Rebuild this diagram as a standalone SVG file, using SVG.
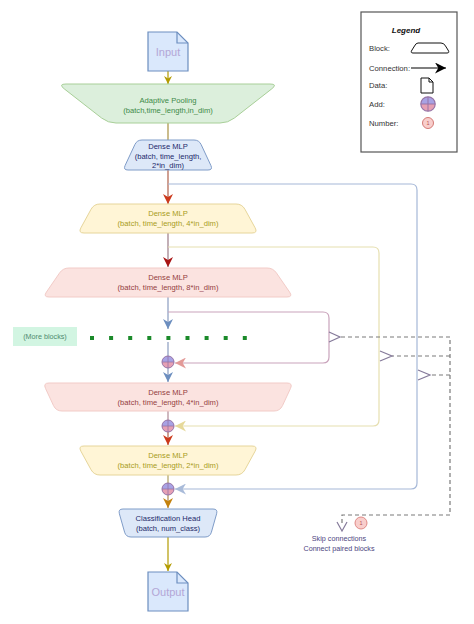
<svg xmlns="http://www.w3.org/2000/svg" xmlns:xlink="http://www.w3.org/1999/xlink" width="474" height="624" viewBox="0 0 474 624">
<style>
  text { font-family: "Liberation Sans", Arial, sans-serif; text-anchor: middle; dominant-baseline: central; }
  .blk { font-size: 7.6px; }
  .lg { font-size: 7.7px; fill: #333; text-anchor: start; }
  .doc { fill: #dae8fc; stroke: #6c8ebf; stroke-width: 1.2; }
  .doctx { font-size: 11px; fill: #b3a6d6; }
  .conn { fill: none; stroke-width: 1.2; }
  .dash { fill: none; stroke: #7a7a7a; stroke-width: 1.2; stroke-dasharray: 4 3; }
  .chev { fill: none; stroke: #857a9a; stroke-width: 1.2; }
</style>
<defs>
  <marker id="aOlive" viewBox="0 0 10 10" refX="10" refY="5" markerWidth="8" markerHeight="8" markerUnits="userSpaceOnUse" orient="auto"><path d="M0,0 L10,5 L0,10 L3,5 z" fill="#b39b00"/></marker>
  <marker id="aRed" viewBox="0 0 10 10" refX="10" refY="5" markerWidth="10" markerHeight="10" markerUnits="userSpaceOnUse" orient="auto"><path d="M0,0 L10,5 L0,10 L3,5 z" fill="#cc3a1c"/></marker>
  <marker id="aDRed" viewBox="0 0 10 10" refX="10" refY="5" markerWidth="10" markerHeight="10" markerUnits="userSpaceOnUse" orient="auto"><path d="M0,0 L10,5 L0,10 L3,5 z" fill="#a81414"/></marker>
  <marker id="aBlue" viewBox="0 0 10 10" refX="10" refY="5" markerWidth="10" markerHeight="10" markerUnits="userSpaceOnUse" orient="auto"><path d="M0,0 L10,5 L0,10 L3,5 z" fill="#6c8ebf"/></marker>
  <marker id="aAmber" viewBox="0 0 10 10" refX="10" refY="5" markerWidth="10" markerHeight="10" markerUnits="userSpaceOnUse" orient="auto"><path d="M0,0 L10,5 L0,10 L3,5 z" fill="#c4820f"/></marker>
  <marker id="aPink" viewBox="0 0 10 10" refX="10" refY="5" markerWidth="11" markerHeight="11" markerUnits="userSpaceOnUse" orient="auto"><path d="M0,0 L10,5 L0,10 L3,5 z" fill="#e39a98"/></marker>
  <marker id="aYel" viewBox="0 0 10 10" refX="10" refY="5" markerWidth="11" markerHeight="11" markerUnits="userSpaceOnUse" orient="auto"><path d="M0,0 L10,5 L0,10 L3,5 z" fill="#e6d99a"/></marker>
  <marker id="aLBlue" viewBox="0 0 10 10" refX="10" refY="5" markerWidth="11" markerHeight="11" markerUnits="userSpaceOnUse" orient="auto"><path d="M0,0 L10,5 L0,10 L3,5 z" fill="#a9bbd9"/></marker>
  <marker id="aBlack" viewBox="0 0 10 10" refX="10" refY="5" markerWidth="11" markerHeight="11" markerUnits="userSpaceOnUse" orient="auto"><path d="M0,0 L10,5 L0,10 L3,5 z" fill="#000"/></marker>
  <g id="addSym">
    <path d="M-6,0 A6,6 0 0 1 6,0 Z" fill="#a8a2e4"/>
    <path d="M-6,0 A6,6 0 0 0 6,0 Z" fill="#e6a0b4"/>
    <circle r="6" fill="none" stroke="#9673a6" stroke-width="1"/>
    <path d="M-6,0 H6 M0,-6 V6" stroke="#9673a6" stroke-width="0.8"/>
  </g>
</defs>
<rect width="474" height="624" fill="#fff"/>

<g id="connectors">
  <path class="conn" d="M168,71 V84" stroke="#b39b00" marker-end="url(#aOlive)"/>
  <path class="conn" d="M168,123 V140" stroke="#a89040"/>
  <path class="conn" d="M168,170 V204" stroke="#b0604a" marker-end="url(#aRed)"/>
  <path class="conn" d="M168,184 H411 Q417,184 417,190 V483 Q417,489 411,489 H175" stroke="#a6b8d8" marker-end="url(#aLBlue)"/>
  <path class="conn" d="M168,233 V267" stroke="#9b7b86" marker-end="url(#aDRed)"/>
  <path class="conn" d="M168,247 H373 Q379,247 379,253 V420 Q379,426 373,426 H175" stroke="#e6dfb0" marker-end="url(#aYel)"/>
  <path class="conn" d="M168,297 V329" stroke="#8a9cc0" marker-end="url(#aBlue)"/>
  <path class="conn" d="M168,312 H323 Q329,312 329,318 V357 Q329,363 323,363 H175" stroke="#c9a3bb" marker-end="url(#aPink)"/>
  <path class="conn" d="M168,342 V356" stroke="#8a9cc0"/>
  <path class="conn" d="M168,368 V382" stroke="#8a9cc0" marker-end="url(#aBlue)"/>
  <path class="conn" d="M168,411 V420" stroke="#b08a96"/>
  <path class="conn" d="M168,432 V445" stroke="#b0604a" marker-end="url(#aRed)"/>
  <path class="conn" d="M168,475 V483" stroke="#b0a060"/>
  <path class="conn" d="M168,495 V508" stroke="#b08a50" marker-end="url(#aAmber)"/>
  <path class="conn" d="M168,537 V571" stroke="#b39b00" marker-end="url(#aOlive)"/>
  <path d="M90,338 H250" fill="none" stroke="#1b8a2a" stroke-width="4" stroke-dasharray="4 15.1"/>
  <path class="dash" d="M342,523 V515 H450 V337 H340"/>
  <path class="dash" d="M450,356 H392"/>
  <path class="dash" d="M450,375 H430"/>
  <path class="chev" d="M329,332 L340,337 L329,342"/>
  <path class="chev" d="M380,351 L392,356 L380,361"/>
  <path class="chev" d="M418,370 L430,375 L418,380"/>
  <path class="chev" d="M337,522 L342,531 L347,522"/>
</g>

<g id="input">
  <path class="doc" d="M148,32 H177 L188,43 V71 H148 Z"/>
  <path d="M177,32 V43 H188" fill="none" stroke="#6c8ebf" stroke-width="1.2"/>
  <text class="doctx" x="168" y="52">Input</text>
</g>

<g id="adaptive-pooling">
  <path d="M66,84 H270 Q278,84 271.7,88.9 L234.3,118.1 Q228,123 220,123 H116 Q108,123 101.7,118.1 L64.3,88.9 Q58,84 66,84 Z" fill="#dcefdc" stroke="#a8cf98" stroke-width="1"/>
  <text class="blk" x="168" y="100" fill="#3c8a48">Adaptive Pooling</text>
  <text class="blk" x="168" y="110" fill="#3c8a48">(batch,time_length,in_dim)</text>
</g>

<g id="dense-mlp-1">
  <path d="M142,140 H194 Q199,140 201.1,144.5 L210.9,165.5 Q213,170 208,170 H128 Q123,170 125.1,165.5 L134.9,144.5 Q137,140 142,140 Z" fill="#dde8f8" stroke="#7f9cc8" stroke-width="1"/>
  <text class="blk" x="168" y="146.5" fill="#22286a">Dense MLP</text>
  <text class="blk" x="168" y="156" fill="#22286a">(batch, time_length,</text>
  <text class="blk" x="168" y="165" fill="#22286a">2*in_dim)</text>
</g>

<g id="dense-mlp-2">
  <path d="M100,204 H236 Q242,204 244.9,209.2 L255.1,227.8 Q258,233 252,233 H84 Q78,233 80.9,227.8 L91.1,209.2 Q94,204 100,204 Z" fill="#fff5d6" stroke="#e6d59a" stroke-width="1"/>
  <text class="blk" x="168" y="213.5" fill="#a89c22">Dense MLP</text>
  <text class="blk" x="168" y="223.5" fill="#a89c22">(batch, time_length, 4*in_dim)</text>
</g>

<g id="dense-mlp-3">
  <path d="M69,268 H267 Q273,268 276.4,272.9 L289.6,292.1 Q293,297 287,297 H49 Q43,297 46.4,292.1 L59.6,272.9 Q63,268 69,268 Z" fill="#fbe3e0" stroke="#f2cbc7" stroke-width="1"/>
  <text class="blk" x="168" y="277.5" fill="#93403f">Dense MLP</text>
  <text class="blk" x="168" y="287.5" fill="#93403f">(batch, time_length, 8*in_dim)</text>
</g>

<g id="more-blocks">
  <rect x="13" y="327" width="64" height="19" fill="#d2f5e2"/>
  <text x="45" y="336.5" font-size="7.2" fill="#4f8a6e">(More blocks)</text>
</g>

<g id="add-1"><use href="#addSym" xlink:href="#addSym" x="168" y="362"/></g>

<g id="dense-mlp-4">
  <path d="M49,383 H287 Q293,383 290.5,388.4 L282.5,405.6 Q280,411 274,411 H62 Q56,411 53.5,405.6 L45.5,388.4 Q43,383 49,383 Z" fill="#fbe3e0" stroke="#f2cbc7" stroke-width="1"/>
  <text class="blk" x="168" y="392" fill="#93403f">Dense MLP</text>
  <text class="blk" x="168" y="402" fill="#93403f">(batch, time_length, 4*in_dim)</text>
</g>

<g id="add-2"><use href="#addSym" xlink:href="#addSym" x="168" y="426"/></g>

<g id="dense-mlp-5">
  <path d="M84,446 H252 Q258,446 255.1,451.2 L244.9,469.8 Q242,475 236,475 H100 Q94,475 91.1,469.8 L80.9,451.2 Q78,446 84,446 Z" fill="#fff5d6" stroke="#e6d59a" stroke-width="1"/>
  <text class="blk" x="168" y="455" fill="#a89c22">Dense MLP</text>
  <text class="blk" x="168" y="465" fill="#a89c22">(batch, time_length, 2*in_dim)</text>
</g>

<g id="add-3"><use href="#addSym" xlink:href="#addSym" x="168" y="489"/></g>

<g id="classification-head">
  <path d="M123,509 H213 Q218,509 216.6,513.8 L211.4,532.2 Q210,537 205,537 H131 Q126,537 124.6,532.2 L119.4,513.8 Q118,509 123,509 Z" fill="#dde8f8" stroke="#7f9cc8" stroke-width="1"/>
  <text class="blk" x="168" y="518.5" fill="#22286a">Classification Head</text>
  <text class="blk" x="168" y="528" fill="#22286a">(batch, num_class)</text>
</g>

<g id="output">
  <path class="doc" d="M148,572 H177 L188,583 V611 H148 Z"/>
  <path d="M177,572 V583 H188" fill="none" stroke="#6c8ebf" stroke-width="1.2"/>
  <text class="doctx" x="168" y="592">Output</text>
</g>

<g id="skip-note">
  <circle cx="361" cy="523" r="6" fill="#f8cecc" stroke="#e08a86" stroke-width="1"/>
  <text x="361" y="523" font-size="5.5" fill="#b85450">1</text>
  <text x="339" y="538" font-size="7.2" fill="#4d4580">Skip connections</text>
  <text x="339" y="548" font-size="7.2" fill="#4d4580">Connect paired blocks</text>
</g>

<g id="legend">
  <rect x="361" y="12" width="96" height="140" fill="#fff" stroke="#555" stroke-width="1.2"/>
  <text x="406" y="30" font-size="8" font-weight="bold" font-style="italic" fill="#111">Legend</text>
  <text class="lg" x="369" y="48">Block:</text>
  <path d="M418,43 H441 Q444,43 445.5,46 L448,50 Q450,53 447,53 H413 Q410,53 412,50 L414.5,46 Q416,43 418,43 Z" fill="#fff" stroke="#111" stroke-width="1"/>
  <text class="lg" x="369" y="68">Connection:</text>
  <path d="M411,68 H446" stroke="#000" stroke-width="1.2" marker-end="url(#aBlack)"/>
  <text class="lg" x="369" y="85">Data:</text>
  <path d="M421,78 H429 L433,82 V93 H421 Z" fill="#fff" stroke="#111" stroke-width="1"/>
  <path d="M429,78 V82 H433" fill="none" stroke="#111" stroke-width="1"/>
  <text class="lg" x="369" y="104">Add:</text>
  <g transform="translate(428,104) scale(1.2)"><use href="#addSym" xlink:href="#addSym"/></g>
  <text class="lg" x="369" y="123">Number:</text>
  <circle cx="428" cy="123" r="5.5" fill="#f8cecc" stroke="#d47a76" stroke-width="1"/>
  <text x="428" y="123" font-size="5.5" fill="#b85450">1</text>
</g>
</svg>
